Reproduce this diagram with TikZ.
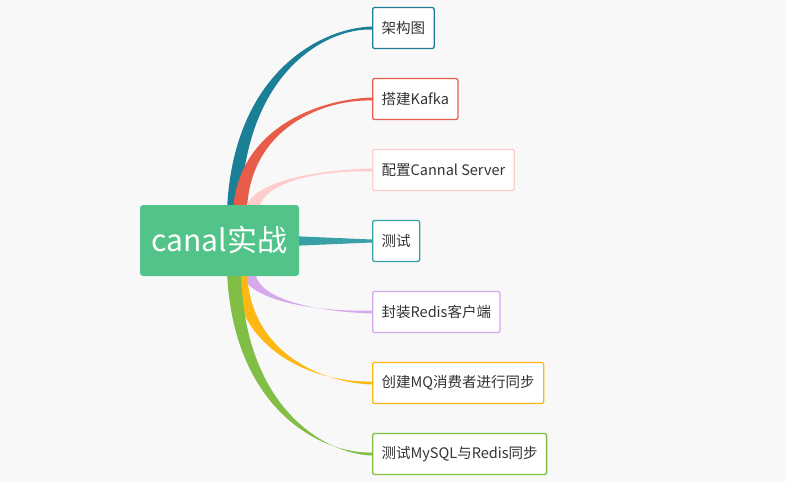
\documentclass[tikz,border=0pt]{standalone}
\usepackage{fontspec}
\setmainfont{Noto Sans CJK SC}
\usetikzlibrary{calc}
\definecolor{bg}{HTML}{F8F8F8}
\definecolor{cgreen}{HTML}{52C48A}
\definecolor{c1}{HTML}{1B7F96}
\definecolor{c2}{HTML}{E85C4A}
\definecolor{c3}{HTML}{FFCCCC}
\definecolor{c4}{HTML}{3AA0A8}
\definecolor{c5}{HTML}{D7A8EC}
\definecolor{c6}{HTML}{FDB813}
\definecolor{c7}{HTML}{80BE45}
\definecolor{txt}{HTML}{333333}
\tikzset{
 leaf/.style={draw=#1, line width=1.3pt, fill=white, rounded corners=2pt, anchor=west,
   minimum height=41pt, inner xsep=9pt, text=txt, font=\fontsize{14.5}{16}\selectfont},
}
\newcommand{\branch}[4]{% color, start x, start y, target node
 \fill[#1] (#2-7,#3) .. controls (#2-1,{#3+0.75*(\ty-#3)}) and (320,\ty) .. ($(#4.west)+(0,-1.5)$)
   -- ($(#4.west)+(0,1.5)$) .. controls (325,\ty) and (#2+10,{#3+0.75*(\ty-#3)}) .. (#2+7,#3) -- cycle;}
\begin{document}
\begin{tikzpicture}[x=1pt,y=-1pt]
\fill[bg] (0,0) rectangle (786,482);
\useasboundingbox (0,0) rectangle (786,482);
\node[leaf=c1] (b1) at (372,28) {架构图};
\node[leaf=c2] (b2) at (372,99) {搭建Kafka};
\node[leaf=c3] (b3) at (372,170) {配置Cannal Server};
\node[leaf=c4] (b4) at (372,241) {测试};
\node[leaf=c5] (b5) at (372,312) {封装Redis客户端};
\node[leaf=c6] (b6) at (372,383) {创建MQ消费者进行同步};
\node[leaf=c7] (b7) at (372,454) {测试MySQL与Redis同步};
\def\ty{28}\branch{c1}{234}{210}{b1}
\def\ty{99}\branch{c2}{240}{210}{b2}
\def\ty{170}\branch{c3}{252}{210}{b3}
\def\ty{312}\branch{c5}{248}{272}{b5}
\def\ty{383}\branch{c6}{240}{272}{b6}
\def\ty{454}\branch{c7}{234}{272}{b7}
\fill[c4] (290,236) -- ($(b4.west)+(0,-1.5)$) -- ($(b4.west)+(0,1.5)$) -- (290,246) -- cycle;
\node[fill=cgreen, rounded corners=3pt, minimum width=159pt, minimum height=71pt, text=white,
  font=\fontsize{30}{32}\selectfont] (c) at (219.5,240.5) {canal实战};
\end{tikzpicture}
\end{document}
